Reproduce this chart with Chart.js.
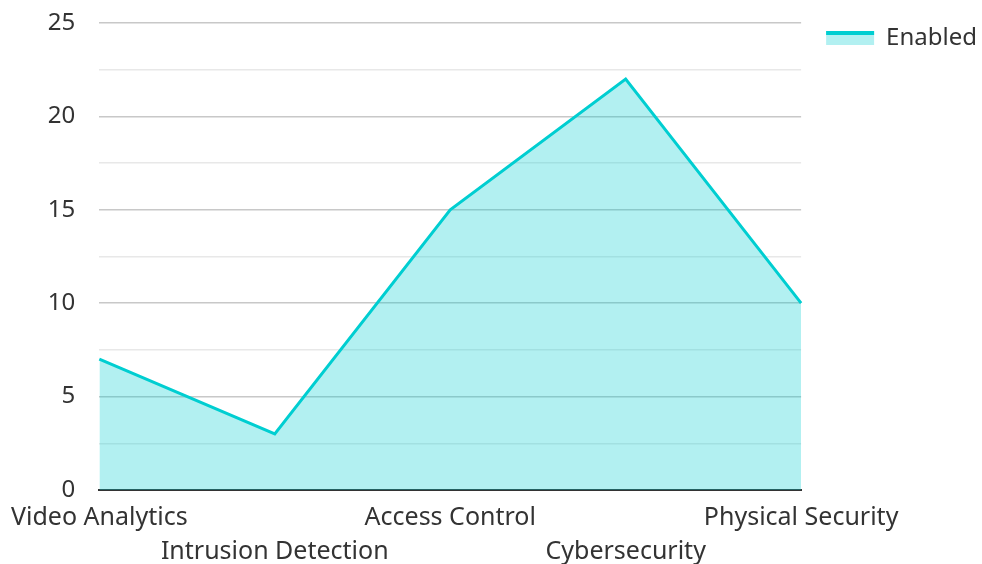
<!DOCTYPE html>
<html>
<head>
<meta charset="utf-8">
<script src="https://cdn.jsdelivr.net/npm/chart.js@4"></script>
<style>
  html, body { margin: 0; padding: 0; background: #fff; }
  #wrap { width: 982px; height: 564px; }
</style>
</head>
<body>
<div id="wrap"><canvas id="areaChart" width="982" height="564"></canvas></div>
<script>
// categories and values
const categories = ['Video Analytics', 'Intrusion Detection', 'Access Control', 'Cybersecurity', 'Physical Security'];
const enabledValues = [7, 3, 15, 22, 10];
const seriesName = 'Enabled';

const lineColor = '#00CED1';
const fillColor = 'rgba(0, 206, 209, 0.3)';

// nudge the legend a bit away from the plot
const legendShiftPlugin = {
    id: 'legendShift',
    afterLayout(chart) {
        const legend = chart.legend;
        if (!legend) return;
        const dx = 13, dy = -9;
        legend.left += dx; legend.right += dx;
        legend.top += dy; legend.bottom += dy;
    }
};

// draws the thick line on top of the legend box, like the original
const legendLinePlugin = {
    id: 'legendLine',
    afterDraw(chart) {
        const legend = chart.legend;
        if (!legend || !legend.legendHitBoxes.length) return;
        const box = legend.legendHitBoxes[0];
        const ctx = chart.ctx;
        const bw = legend.options.labels.boxWidth;
        const bh = legend.options.labels.boxHeight;
        const top = box.top + (box.height - bh) / 2;
        ctx.save();
        ctx.fillStyle = lineColor;
        ctx.fillRect(box.left, top, bw, 4);
        ctx.restore();
    }
};

Chart.defaults.font.family = '"Noto Sans", "Open Sans", sans-serif';
Chart.defaults.color = '#333';

const ctx = document.getElementById('areaChart').getContext('2d');
new Chart(ctx, {
    type: 'line',
    data: {
        labels: categories,
        datasets: [{
            label: seriesName,
            data: enabledValues,
            borderColor: lineColor,
            backgroundColor: fillColor,
            borderWidth: 3,
            fill: 'origin',
            tension: 0,
            pointRadius: 0,
            pointHoverRadius: 0
        }]
    },
    options: {
        responsive: false,
        animation: false,
        layout: { padding: { top: 23, right: 8, bottom: 0, left: 0 } },
        plugins: {
            tooltip: { enabled: false },
            legend: {
                position: 'right',
                align: 'start',
                labels: {
                    boxWidth: 48,
                    boxHeight: 14,
                    padding: 12,
                    font: { size: 24 },
                    color: '#333',
                    generateLabels: function(chart) {
                        const items = Chart.defaults.plugins.legend.labels.generateLabels(chart);
                        items.forEach(function(it) { it.lineWidth = 0; });
                        return items;
                    }
                }
            }
        },
        scales: {
            x: {
                offset: false,
                grid: { display: false, drawTicks: false },
                border: { display: true, color: '#333', width: 2 },
                afterFit: function(scale) { scale.height = 74; },
                ticks: {
                    autoSkip: false,
                    maxRotation: 0,
                    minRotation: 0,
                    padding: 11,
                    font: { size: 25, lineHeight: 1.35 },
                    color: '#333',
                    callback: function(val, i) {
                        const name = categories[i];
                        return i % 2 ? ['', name] : name;
                    }
                }
            },
            y: {
                min: 0,
                max: 25,
                afterFit: function(scale) {
                    scale.width = 99;
                    scale.paddingTop = 0;
                    scale.paddingBottom = 0;
                },
                grid: {
                    drawTicks: false,
                    lineWidth: 1.5,
                    color: function(c) {
                        return c.tick && c.tick.value % 5 === 0 ? '#c8c8c8' : '#e8e8e8';
                    }
                },
                border: { display: false },
                ticks: {
                    stepSize: 2.5,
                    padding: 24,
                    font: { size: 24 },
                    color: '#333',
                    callback: function(v) {
                        return v % 5 === 0 ? v : '';
                    }
                }
            }
        }
    },
    plugins: [legendShiftPlugin, legendLinePlugin]
});
</script>
</body>
</html>
